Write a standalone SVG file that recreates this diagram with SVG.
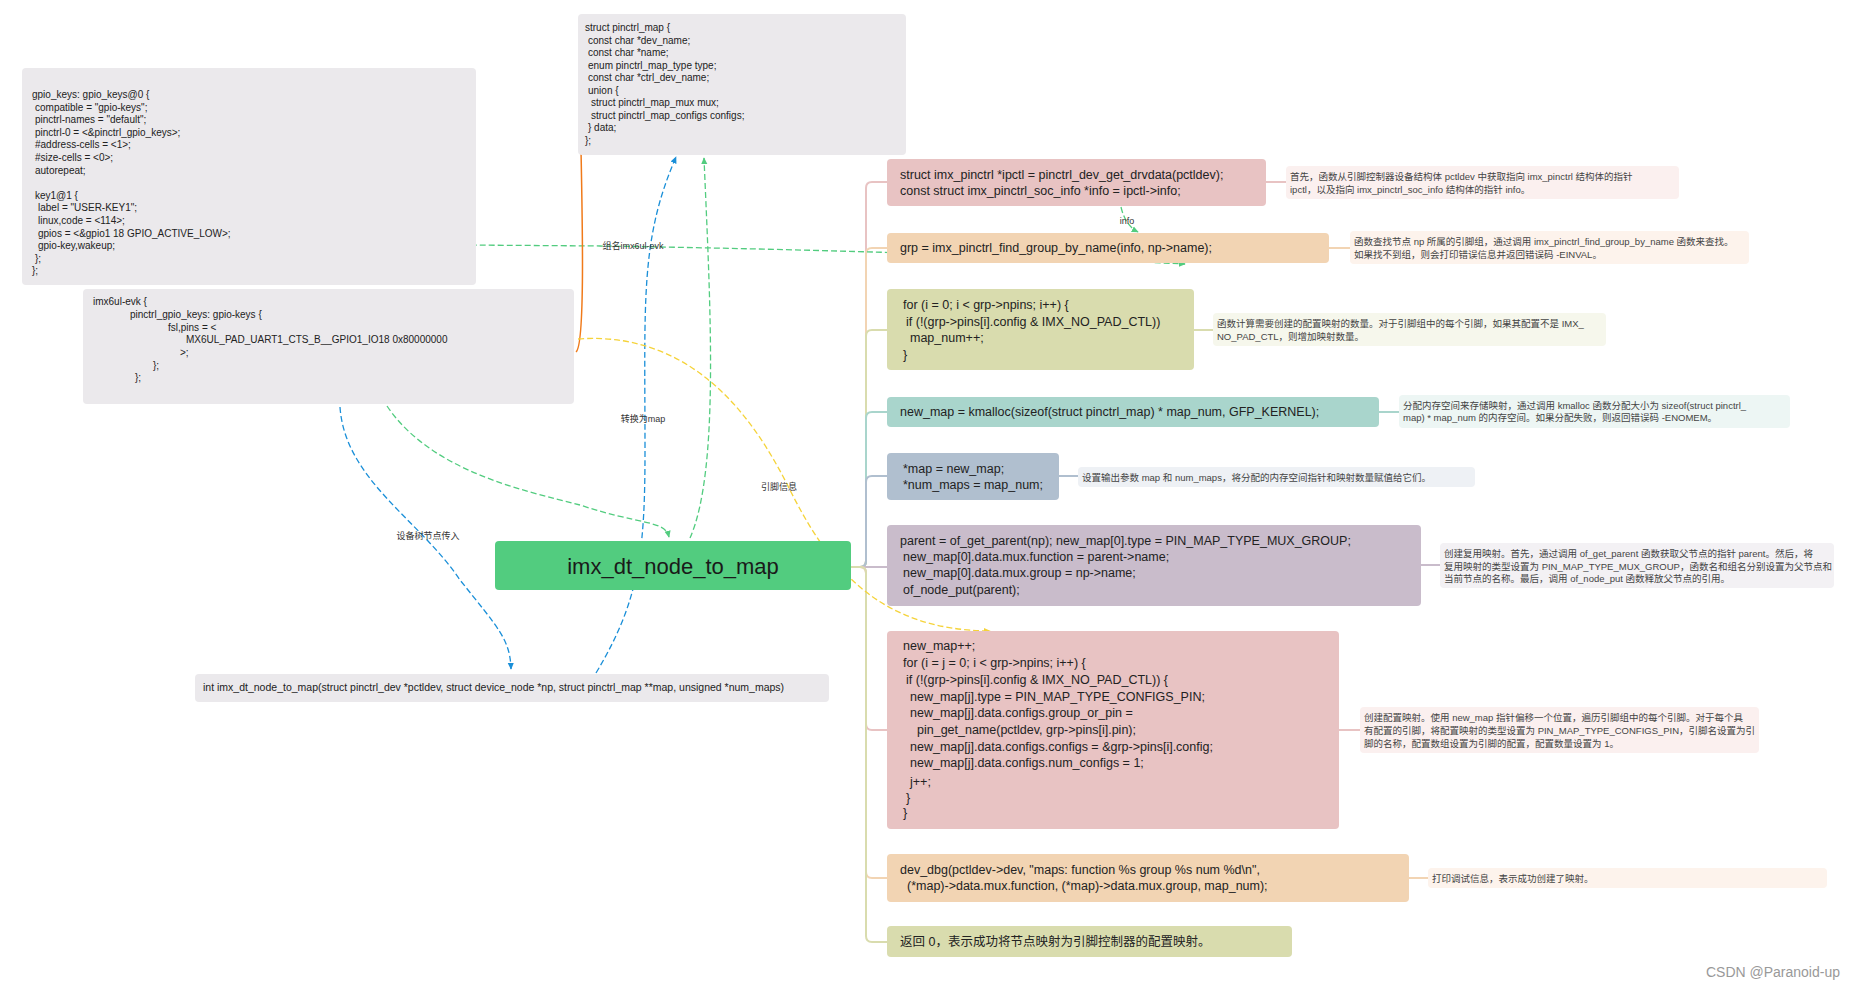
<svg xmlns="http://www.w3.org/2000/svg" width="1858" height="988" viewBox="0 0 1858 988">
<style>
text{font-family:"Liberation Sans","Noto Sans CJK SC",sans-serif;fill:#222}
.code{font-size:10px}
.box{font-size:12.5px}
.note{font-size:9.5px;fill:#444}
.lbl{font-size:9px;fill:#333}
.gray{fill:#ebe9ec}
.dash{fill:none;stroke-width:1.3;stroke-dasharray:6 3}
.br{fill:none;stroke-width:2}
</style>
<defs>
<marker id="ab" viewBox="0 0 10 10" refX="8" refY="5" markerWidth="6" markerHeight="6" orient="auto"><path d="M0,1L9,5L0,9z" fill="#1a8fd8"/></marker>
<marker id="ag" viewBox="0 0 10 10" refX="8" refY="5" markerWidth="6" markerHeight="6" orient="auto"><path d="M0,1L9,5L0,9z" fill="#52cc7f"/></marker>
<marker id="ay" viewBox="0 0 10 10" refX="8" refY="5" markerWidth="6" markerHeight="6" orient="auto"><path d="M0,1L9,5L0,9z" fill="#f5d33a"/></marker>
<marker id="ao" viewBox="0 0 10 10" refX="8" refY="5" markerWidth="6" markerHeight="6" orient="auto"><path d="M0,1L9,5L0,9z" fill="#f07a1a"/></marker>
</defs>
<rect width="1858" height="988" fill="#fff"/>

<g id="connectors">
<path class="br" stroke="#e8c3c3" d="M851,567 H860 Q866,567 866,561 V188 Q866,182 872,182 H887"/>
<path class="br" stroke="#f2d4b3" d="M851,567 H860 Q866,567 866,561 V254 Q866,248 872,248 H887"/>
<path class="br" stroke="#d9dcae" d="M851,567 H860 Q866,567 866,561 V336 Q866,330 872,330 H887"/>
<path class="br" stroke="#a9d5cc" d="M851,567 H860 Q866,567 866,561 V418 Q866,412 872,412 H887"/>
<path class="br" stroke="#b0bfcf" d="M851,567 H860 Q866,567 866,561 V482 Q866,476 872,476 H887"/>
<path class="br" stroke="#c9bccb" d="M851,567 H887"/>
<path class="br" stroke="#e8c3c3" d="M851,567 H860 Q866,567 866,573 V724 Q866,730 872,730 H887"/>
<path class="br" stroke="#f2d4b3" d="M851,567 H860 Q866,567 866,573 V872 Q866,878 872,878 H887"/>
<path class="br" stroke="#d9dcae" d="M851,567 H860 Q866,567 866,573 V936 Q866,942 872,942 H887"/>
<path class="br" stroke="#e8c3c3" d="M1266,182 H1286"/>
<path class="br" stroke="#f2d4b3" d="M1329,248 H1350"/>
<path class="br" stroke="#d9dcae" d="M1194,330 H1213"/>
<path class="br" stroke="#a9d5cc" d="M1379,412 H1399"/>
<path class="br" stroke="#b0bfcf" d="M1059,476 H1078"/>
<path class="br" stroke="#c9bccb" d="M1421,565 H1440"/>
<path class="br" stroke="#e8c3c3" d="M1339,730 H1360"/>
<path class="br" stroke="#f2d4b3" d="M1409,878 H1428"/>
<path class="dash" stroke="#52cc7f" d="M1121,207 C1124,220 1130,228 1138,232" marker-end="url(#ag)"/>
<path class="dash" stroke="#52cc7f" d="M95,285 C98,245 250,243 600,246 C800,249 1000,255 1185,264" marker-end="url(#ag)"/>
<path fill="none" stroke="#f07a1a" stroke-width="1.5" d="M576,352 C586,345 582,200 580,100 C580,80 582,72 586,70" marker-end="url(#ao)"/>
<path class="dash" stroke="#1a8fd8" d="M340,407 C345,480 420,520 460,580 C500,630 510,640 511,669" marker-end="url(#ab)"/>
<path class="dash" stroke="#52cc7f" d="M387,406 C430,470 520,490 580,505 C640,525 665,520 669,537" marker-end="url(#ag)"/>
<path class="dash" stroke="#1a8fd8" d="M596,673 C640,600 645,550 645,450 C645,300 640,240 676,157" marker-end="url(#ab)"/>
<path class="dash" stroke="#52cc7f" d="M690,538 C720,470 710,300 704,158" marker-end="url(#ag)"/>
<path class="dash" stroke="#f5d33a" d="M578,339 C700,330 760,430 790,490 C830,570 880,630 990,631" marker-end="url(#ay)"/>
<text class="lbl" x="1127" y="224" text-anchor="middle">info</text>
<text class="lbl" x="633" y="249" text-anchor="middle">组名imx6ul-evk</text>
<text class="lbl" x="643" y="422" text-anchor="middle">转换为map</text>
<text class="lbl" x="779" y="490" text-anchor="middle">引脚信息</text>
<text class="lbl" x="428" y="539" text-anchor="middle">设备树节点传入</text>
</g>

<g id="pinctrl_map">
<rect class="gray" x="578" y="14" width="328" height="141" rx="4"/>
<text class="code" x="585" y="31">struct pinctrl_map {</text>
<text class="code" x="588" y="44">const char *dev_name;</text>
<text class="code" x="588" y="56">const char *name;</text>
<text class="code" x="588" y="69">enum pinctrl_map_type type;</text>
<text class="code" x="588" y="81">const char *ctrl_dev_name;</text>
<text class="code" x="588" y="94">union {</text>
<text class="code" x="591" y="106">struct pinctrl_map_mux mux;</text>
<text class="code" x="591" y="119">struct pinctrl_map_configs configs;</text>
<text class="code" x="588" y="131">} data;</text>
<text class="code" x="585" y="144">};</text>
</g>

<g id="gpio_keys">
<rect class="gray" x="22" y="68" width="454" height="217" rx="4"/>
<text class="code" x="32" y="98">gpio_keys: gpio_keys@0 {</text>
<text class="code" x="35" y="111">compatible = "gpio-keys";</text>
<text class="code" x="35" y="123">pinctrl-names = "default";</text>
<text class="code" x="35" y="136">pinctrl-0 = &lt;&amp;pinctrl_gpio_keys&gt;;</text>
<text class="code" x="35" y="148">#address-cells = &lt;1&gt;;</text>
<text class="code" x="35" y="161">#size-cells = &lt;0&gt;;</text>
<text class="code" x="35" y="174">autorepeat;</text>
<text class="code" x="35" y="199">key1@1 {</text>
<text class="code" x="38" y="211">label = "USER-KEY1";</text>
<text class="code" x="38" y="224">linux,code = &lt;114&gt;;</text>
<text class="code" x="38" y="237">gpios = &lt;&amp;gpio1 18 GPIO_ACTIVE_LOW&gt;;</text>
<text class="code" x="38" y="249">gpio-key,wakeup;</text>
<text class="code" x="35" y="262">};</text>
<text class="code" x="32" y="274">};</text>
</g>

<g id="imx6ul_evk">
<rect class="gray" x="83" y="289" width="491" height="115" rx="4"/>
<text class="code" x="93" y="305">imx6ul-evk {</text>
<text class="code" x="130" y="318">pinctrl_gpio_keys: gpio-keys {</text>
<text class="code" x="168" y="331">fsl,pins = &lt;</text>
<text class="code" x="186" y="343">MX6UL_PAD_UART1_CTS_B__GPIO1_IO18 0x80000000</text>
<text class="code" x="180" y="356">&gt;;</text>
<text class="code" x="153" y="369">};</text>
<text class="code" x="135" y="381">};</text>
</g>

<g id="main">
<rect x="495" y="541" width="356" height="49" rx="4" fill="#52cc7f"/>
<text x="673" y="574" text-anchor="middle" font-size="22" style="fill:#1a1a1a">imx_dt_node_to_map</text>
</g>

<g id="signature">
<rect class="gray" x="195" y="674" width="634" height="28" rx="4"/>
<text x="203" y="691" font-size="10.5">int imx_dt_node_to_map(struct pinctrl_dev *pctldev,  struct device_node *np,   struct pinctrl_map **map, unsigned *num_maps)</text>
</g>

<g id="b1">
<rect x="887" y="159" width="379" height="47" rx="4" fill="#e8c3c3"/>
<text class="box" x="900" y="179">struct imx_pinctrl *ipctl = pinctrl_dev_get_drvdata(pctldev);</text>
<text class="box" x="900" y="195">const struct imx_pinctrl_soc_info *info = ipctl-&gt;info;</text>
</g>
<g id="n1">
<rect x="1286" y="166" width="393" height="33" rx="4" fill="#fbf0ef"/>
<text class="note" x="1290" y="180">首先，函数从引脚控制器设备结构体 pctldev 中获取指向 imx_pinctrl 结构体的指针</text>
<text class="note" x="1290" y="193">ipctl，以及指向 imx_pinctrl_soc_info 结构体的指针 info。</text>
</g>

<g id="b2">
<rect x="887" y="233" width="442" height="30" rx="4" fill="#f2d4b3"/>
<text class="box" x="900" y="252">grp = imx_pinctrl_find_group_by_name(info, np-&gt;name);</text>
</g>
<g id="n2">
<rect x="1350" y="231" width="399" height="33" rx="4" fill="#fdf3ec"/>
<text class="note" x="1354" y="245">函数查找节点 np 所属的引脚组，通过调用 imx_pinctrl_find_group_by_name 函数来查找。</text>
<text class="note" x="1354" y="258">如果找不到组，则会打印错误信息并返回错误码 -EINVAL。</text>
</g>

<g id="b3">
<rect x="887" y="289" width="307" height="81" rx="4" fill="#d9dcae"/>
<text class="box" x="903" y="309">for (i = 0; i &lt; grp-&gt;npins; i++) {</text>
<text class="box" x="906" y="326">if (!(grp-&gt;pins[i].config &amp; IMX_NO_PAD_CTL))</text>
<text class="box" x="910" y="342">map_num++;</text>
<text class="box" x="903" y="359">}</text>
</g>
<g id="n3">
<rect x="1213" y="313" width="393" height="33" rx="4" fill="#f6f7ec"/>
<text class="note" x="1217" y="327">函数计算需要创建的配置映射的数量。对于引脚组中的每个引脚，如果其配置不是 IMX_</text>
<text class="note" x="1217" y="340">NO_PAD_CTL，则增加映射数量。</text>
</g>

<g id="b4">
<rect x="887" y="397" width="492" height="30" rx="4" fill="#a9d5cc"/>
<text class="box" x="900" y="416">new_map = kmalloc(sizeof(struct pinctrl_map) * map_num, GFP_KERNEL);</text>
</g>
<g id="n4">
<rect x="1399" y="395" width="391" height="33" rx="4" fill="#edf6f4"/>
<text class="note" x="1403" y="409">分配内存空间来存储映射，通过调用 kmalloc 函数分配大小为 sizeof(struct pinctrl_</text>
<text class="note" x="1403" y="421">map) * map_num 的内存空间。如果分配失败，则返回错误码 -ENOMEM。</text>
</g>

<g id="b5">
<rect x="887" y="453" width="172" height="47" rx="4" fill="#b0bfcf"/>
<text class="box" x="903" y="473">*map = new_map;</text>
<text class="box" x="903" y="489">*num_maps = map_num;</text>
</g>
<g id="n5">
<rect x="1078" y="467" width="397" height="20" rx="4" fill="#eef1f5"/>
<text class="note" x="1082" y="481">设置输出参数 map 和 num_maps，将分配的内存空间指针和映射数量赋值给它们。</text>
</g>

<g id="b6">
<rect x="887" y="525" width="534" height="81" rx="4" fill="#c9bccb"/>
<text class="box" x="900" y="545">parent = of_get_parent(np); new_map[0].type = PIN_MAP_TYPE_MUX_GROUP;</text>
<text class="box" x="903" y="561">new_map[0].data.mux.function = parent-&gt;name;</text>
<text class="box" x="903" y="577">new_map[0].data.mux.group = np-&gt;name;</text>
<text class="box" x="903" y="594">of_node_put(parent);</text>
</g>
<g id="n6">
<rect x="1440" y="543" width="394" height="45" rx="4" fill="#f3f1f4"/>
<text class="note" x="1444" y="557">创建复用映射。首先，通过调用 of_get_parent 函数获取父节点的指针 parent。然后，将</text>
<text class="note" x="1444" y="570">复用映射的类型设置为 PIN_MAP_TYPE_MUX_GROUP，函数名和组名分别设置为父节点和</text>
<text class="note" x="1444" y="582">当前节点的名称。最后，调用 of_node_put 函数释放父节点的引用。</text>
</g>

<g id="b7">
<rect x="887" y="631" width="452" height="198" rx="4" fill="#e8c3c3"/>
<text class="box" x="903" y="650">new_map++;</text>
<text class="box" x="903" y="667">for (i = j = 0; i &lt; grp-&gt;npins; i++) {</text>
<text class="box" x="906" y="684">if (!(grp-&gt;pins[i].config &amp; IMX_NO_PAD_CTL)) {</text>
<text class="box" x="910" y="701">new_map[j].type = PIN_MAP_TYPE_CONFIGS_PIN;</text>
<text class="box" x="910" y="717">new_map[j].data.configs.group_or_pin =</text>
<text class="box" x="917" y="734">pin_get_name(pctldev, grp-&gt;pins[i].pin);</text>
<text class="box" x="910" y="751">new_map[j].data.configs.configs = &amp;grp-&gt;pins[i].config;</text>
<text class="box" x="910" y="767">new_map[j].data.configs.num_configs = 1;</text>
<text class="box" x="910" y="786">j++;</text>
<text class="box" x="906" y="802">}</text>
<text class="box" x="903" y="817">}</text>
</g>
<g id="n7">
<rect x="1360" y="707" width="399" height="46" rx="4" fill="#fbf0ef"/>
<text class="note" x="1364" y="721">创建配置映射。使用 new_map 指针偏移一个位置，遍历引脚组中的每个引脚。对于每个具</text>
<text class="note" x="1364" y="734">有配置的引脚，将配置映射的类型设置为 PIN_MAP_TYPE_CONFIGS_PIN，引脚名设置为引</text>
<text class="note" x="1364" y="747">脚的名称，配置数组设置为引脚的配置，配置数量设置为 1。</text>
</g>

<g id="b8">
<rect x="887" y="854" width="522" height="48" rx="4" fill="#f2d4b3"/>
<text class="box" x="900" y="874">dev_dbg(pctldev-&gt;dev, "maps: function %s group %s num %d\n",</text>
<text class="box" x="907" y="890">(*map)-&gt;data.mux.function, (*map)-&gt;data.mux.group, map_num);</text>
</g>
<g id="n8">
<rect x="1428" y="868" width="399" height="20" rx="4" fill="#fdf3ec"/>
<text class="note" x="1432" y="882">打印调试信息，表示成功创建了映射。</text>
</g>

<g id="b9">
<rect x="887" y="926" width="405" height="31" rx="4" fill="#d9dcae"/>
<text class="box" x="900" y="946">返回 0，表示成功将节点映射为引脚控制器的配置映射。</text>
</g>

<text x="1840" y="977" text-anchor="end" font-size="14" style="fill:#999">CSDN @Paranoid-up</text>
</svg>
